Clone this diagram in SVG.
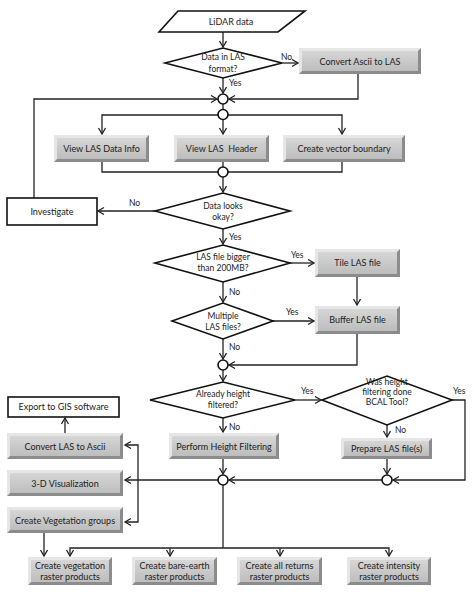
<svg xmlns="http://www.w3.org/2000/svg" width="474" height="594" viewBox="0 0 474 594">
<style>
text{font-family:Lato,"Liberation Sans",sans-serif;font-size:9px;fill:#222;text-anchor:middle}
.dt{font-size:8.5px}
.lbl{font-size:8.5px;text-anchor:start}
.sh{fill:none;stroke:#111;stroke-width:1.6}
.wb{fill:#fff;stroke:#111;stroke-width:1.6}
.dk{fill:#8c8c8c}
.lt{fill:#e6e6e6}
.fc{fill:url(#g)}
.cn{fill:none;stroke:#222;stroke-width:1.3}
.ar{marker-end:url(#a)}
.cc{fill:#fff;stroke:#111;stroke-width:1.6}
</style>
<defs>
<linearGradient id="g" x1="0" y1="0" x2="0" y2="1"><stop offset="0" stop-color="#d6d6d6"/><stop offset="1" stop-color="#bdbdbd"/></linearGradient>
<marker id="a" markerWidth="10" markerHeight="10" refX="7" refY="4" orient="auto" markerUnits="userSpaceOnUse"><path d="M1,0.5 L7,4 L1,7.5" fill="none" stroke="#222" stroke-width="1.3"/></marker>
</defs>
<g id="connectors">
<path class="cn ar" d="M223,32 V47"/>
<path class="cn ar" d="M282,63 H298"/>
<path class="cn ar" d="M223,78 V93"/>
<path class="cn ar" d="M358,74 V99 H229"/>
<path class="cn ar" d="M34,198 V99 H217"/>
<path class="cn" d="M223,104 V109"/>
<path class="cn ar" d="M218,115 H102 V134"/>
<path class="cn ar" d="M223,120 V134"/>
<path class="cn ar" d="M228,115 H342 V134"/>
<path class="cn" d="M102,162 V172 H218"/>
<path class="cn" d="M223,162 V167"/>
<path class="cn" d="M342,162 V172 H228"/>
<path class="cn ar" d="M223,177 V192"/>
<path class="cn ar" d="M155,211 H98"/>
<path class="cn ar" d="M223,229 V244"/>
<path class="cn ar" d="M290,263 H314"/>
<path class="cn ar" d="M357,277 V305"/>
<path class="cn ar" d="M223,282 V302"/>
<path class="cn ar" d="M273,321 H314"/>
<path class="cn ar" d="M223,339 V359"/>
<path class="cn ar" d="M357,334 V365 H229"/>
<path class="cn ar" d="M223,370 V381"/>
<path class="cn ar" d="M295,400 H321"/>
<path class="cn ar" d="M452,400 H465 V480 H393"/>
<path class="cn ar" d="M387,425 V437"/>
<path class="cn ar" d="M387,459 V474"/>
<path class="cn ar" d="M382,480 H229"/>
<path class="cn ar" d="M223,418 V432"/>
<path class="cn ar" d="M223,459 V474"/>
<path class="cn ar" d="M218,480 H125"/>
<path class="cn ar" d="M138,480 V445 H125"/>
<path class="cn ar" d="M138,480 V522 H125"/>
<path class="cn ar" d="M65,433 V418"/>
<path class="cn ar" d="M44,532 V556"/>
<path class="cn" d="M223,485 V548"/>
<path class="cn ar" d="M223,548 H70 V556"/>
<path class="cn ar" d="M223,548 H389 V556"/>
<path class="cn ar" d="M170,548 V556"/>
<path class="cn ar" d="M280,548 V556"/>
</g>
<g id="lidar"><polygon class="wb" points="178,11 305,11 278,32 159,32"/><text x="231" y="25">LiDAR data</text></g>
<g id="d1"><polygon class="wb" points="165,63 223,48 282,63 223,78"/><text class="dt" x="223" y="60">Data in LAS</text><text class="dt" x="223" y="72">format?</text></g>
<g id="convascii"><rect class="dk" x="299" y="48" width="122" height="26"/><polygon class="lt" points="299,48 421,48 418,51 302,71 299,74"/><rect class="fc" x="302" y="51" width="116" height="20"/><text x="360" y="65">Convert Ascii to LAS</text></g>
<g id="c1"><circle class="cc" cx="223" cy="99" r="5"/></g>
<g id="c2"><circle class="cc" cx="223" cy="114.5" r="5"/></g>
<g id="info"><rect class="dk" x="54" y="135" width="95" height="27"/><polygon class="lt" points="54,135 149,135 146,138 57,159 54,162"/><rect class="fc" x="57" y="138" width="89" height="21"/><text x="101.5" y="152">View LAS Data Info</text></g>
<g id="header"><rect class="dk" x="174" y="135" width="95" height="27"/><polygon class="lt" points="174,135 269,135 266,138 177,159 174,162"/><rect class="fc" x="177" y="138" width="89" height="21"/><text x="221.5" y="152" xml:space="preserve">View LAS  Header</text></g>
<g id="boundary"><rect class="dk" x="283" y="135" width="122" height="27"/><polygon class="lt" points="283,135 405,135 402,138 286,159 283,162"/><rect class="fc" x="286" y="138" width="116" height="21"/><text x="344" y="152">Create vector boundary</text></g>
<g id="c3"><circle class="cc" cx="223" cy="172" r="5"/></g>
<g id="d2"><polygon class="wb" points="155,211 223,193 290,211 223,229"/><text class="dt" x="223" y="209">Data looks</text><text class="dt" x="223" y="220">okay?</text></g>
<g id="investigate"><rect class="wb" x="7" y="198" width="90" height="27"/><text x="52" y="215">Investigate</text></g>
<g id="d3"><polygon class="wb" points="155,263 223,245 290,263 223,282"/><text class="dt" x="223" y="260">LAS file bigger</text><text class="dt" x="223" y="271">than 200MB?</text></g>
<g id="tile"><rect class="dk" x="315" y="249" width="85" height="28"/><polygon class="lt" points="315,249 400,249 397,252 318,274 315,277"/><rect class="fc" x="318" y="252" width="79" height="22"/><text x="357.5" y="266">Tile LAS file</text></g>
<g id="d4"><polygon class="wb" points="172,321 223,303 273,321 223,339"/><text class="dt" x="223" y="319">Multiple</text><text class="dt" x="223" y="330">LAS files?</text></g>
<g id="buffer"><rect class="dk" x="315" y="306" width="85" height="28"/><polygon class="lt" points="315,306 400,306 397,309 318,331 315,334"/><rect class="fc" x="318" y="309" width="79" height="22"/><text x="357.5" y="323">Buffer LAS file</text></g>
<g id="c4"><circle class="cc" cx="223" cy="365" r="5"/></g>
<g id="d5"><polygon class="wb" points="150,400 223,382 295,400 223,418"/><text class="dt" x="223" y="397">Already height</text><text class="dt" x="223" y="408">filtered?</text></g>
<g id="d6"><polygon class="wb" points="322,400 387,376 452,400 387,425"/><text class="dt" x="387" y="385">Was height</text><text class="dt" x="387" y="395">filtering done</text><text class="dt" x="387" y="405">BCAL Tool?</text></g>
<g id="perform"><rect class="dk" x="169" y="433" width="110" height="26"/><polygon class="lt" points="169,433 279,433 276,436 172,456 169,459"/><rect class="fc" x="172" y="436" width="104" height="20"/><text x="224" y="449.5">Perform Height Filtering</text></g>
<g id="prepare"><rect class="dk" x="341" y="438" width="91" height="21"/><polygon class="lt" points="341,438 432,438 429,441 344,456 341,459"/><rect class="fc" x="344" y="441" width="85" height="15"/><text x="386.5" y="452">Prepare LAS file(s)</text></g>
<g id="c5"><circle class="cc" cx="223" cy="480" r="5"/></g>
<g id="c6"><circle class="cc" cx="387" cy="480" r="5"/></g>
<g id="export"><rect class="wb" x="8" y="397" width="111" height="20"/><text x="63.5" y="410">Export to GIS software</text></g>
<g id="convlas"><rect class="dk" x="7" y="433" width="116" height="26"/><polygon class="lt" points="7,433 123,433 120,436 10,456 7,459"/><rect class="fc" x="10" y="436" width="110" height="20"/><text x="65" y="449.5">Convert LAS to Ascii</text></g>
<g id="vis3d"><rect class="dk" x="7" y="470" width="116" height="26"/><polygon class="lt" points="7,470 123,470 120,473 10,493 7,496"/><rect class="fc" x="10" y="473" width="110" height="20"/><text x="65" y="486.5">3-D Visualization</text></g>
<g id="veggroups"><rect class="dk" x="7" y="507" width="116" height="26"/><polygon class="lt" points="7,507 123,507 120,510 10,530 7,533"/><rect class="fc" x="10" y="510" width="110" height="20"/><text x="65" y="523.5">Create Vegetation groups</text></g>
<g id="r1"><rect class="dk" x="28" y="557" width="84" height="28"/><polygon class="lt" points="28,557 112,557 109,560 31,582 28,585"/><rect class="fc" x="31" y="560" width="78" height="22"/><text x="70" y="569">Create vegetation</text><text x="70" y="580">raster products</text></g>
<g id="r2"><rect class="dk" x="132" y="557" width="85" height="28"/><polygon class="lt" points="132,557 217,557 214,560 135,582 132,585"/><rect class="fc" x="135" y="560" width="79" height="22"/><text x="174.5" y="569">Create bare-earth</text><text x="174.5" y="580">raster products</text></g>
<g id="r3"><rect class="dk" x="237" y="557" width="85" height="28"/><polygon class="lt" points="237,557 322,557 319,560 240,582 237,585"/><rect class="fc" x="240" y="560" width="79" height="22"/><text x="279.5" y="569">Create all returns</text><text x="279.5" y="580">raster products</text></g>
<g id="r4"><rect class="dk" x="347" y="557" width="84" height="28"/><polygon class="lt" points="347,557 431,557 428,560 350,582 347,585"/><rect class="fc" x="350" y="560" width="78" height="22"/><text x="389" y="569">Create intensity</text><text x="389" y="580">raster products</text></g>
<g id="labels">
<text class="lbl" x="281" y="60">No</text>
<text class="lbl" x="229" y="86">Yes</text>
<text class="lbl" x="129" y="206">No</text>
<text class="lbl" x="229" y="240">Yes</text>
<text class="lbl" x="291" y="258">Yes</text>
<text class="lbl" x="229" y="295">No</text>
<text class="lbl" x="286" y="315">Yes</text>
<text class="lbl" x="229" y="350">No</text>
<text class="lbl" x="301" y="394">Yes</text>
<text class="lbl" x="453" y="394">Yes</text>
<text class="lbl" x="229" y="430">No</text>
<text class="lbl" x="395" y="433">No</text>
</g>
</svg>
